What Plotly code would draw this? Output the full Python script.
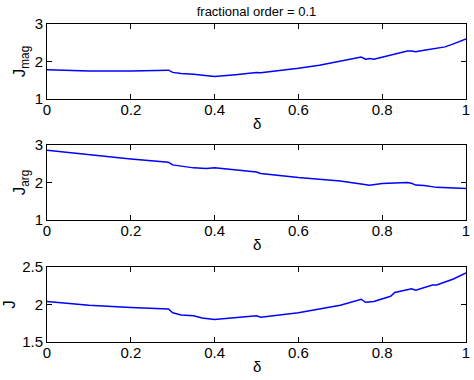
import plotly.graph_objects as go
from plotly.subplots import make_subplots

# delta values (x) per series
x_mag = [0, 0.1, 0.2, 0.29, 0.3, 0.32, 0.35, 0.37, 0.4, 0.45, 0.5, 0.51, 0.55, 0.6, 0.65, 0.7, 0.75, 0.76, 0.77, 0.78, 0.8, 0.83, 0.86, 0.87, 0.88, 0.9, 0.95, 0.97, 1.0]
j_mag = [1.78, 1.75, 1.75, 1.77, 1.71, 1.68, 1.66, 1.63, 1.60, 1.65, 1.71, 1.70, 1.75, 1.82, 1.90, 2.00, 2.12, 2.06, 2.08, 2.06, 2.12, 2.20, 2.28, 2.28, 2.26, 2.30, 2.39, 2.47, 2.60]

x_arg = [0, 0.1, 0.2, 0.29, 0.3, 0.35, 0.38, 0.4, 0.45, 0.5, 0.51, 0.6, 0.7, 0.76, 0.77, 0.8, 0.82, 0.84, 0.86, 0.87, 0.88, 0.9, 0.92, 0.93, 1.0]
j_arg = [2.86, 2.74, 2.63, 2.54, 2.47, 2.39, 2.37, 2.39, 2.33, 2.28, 2.24, 2.13, 2.04, 1.95, 1.93, 1.97, 1.98, 2.01, 2.00, 1.98, 1.93, 1.92, 1.89, 1.87, 1.84]

x_j = [0, 0.1, 0.2, 0.29, 0.3, 0.32, 0.35, 0.37, 0.4, 0.45, 0.5, 0.51, 0.55, 0.6, 0.65, 0.7, 0.75, 0.76, 0.78, 0.8, 0.82, 0.83, 0.86, 0.87, 0.88, 0.9, 0.92, 0.93, 0.97, 1.0]
j_tot = [2.04, 1.99, 1.96, 1.94, 1.89, 1.86, 1.85, 1.82, 1.80, 1.83, 1.85, 1.83, 1.86, 1.89, 1.94, 1.99, 2.07, 2.03, 2.04, 2.07, 2.11, 2.16, 2.20, 2.21, 2.19, 2.22, 2.26, 2.26, 2.34, 2.42]

x_ticks = [0, 0.2, 0.4, 0.6, 0.8, 1]
x_ticktext = ["0", "0.2", "0.4", "0.6", "0.8", "1"]
y_ticks_1 = [1, 2, 3]
y_ticks_2 = [1, 2, 3]
y_ticks_3 = [1.5, 2, 2.5]
y_ticktext_3 = ["1.5", "2", "2.5"]

title_text = "fractional order = 0.1"
x_label = "δ"
y_labels = ["J<sub>mag</sub>", "J<sub>arg</sub>", "J"]

fig = make_subplots(rows=3, cols=1)
series = [(x_mag, j_mag), (x_arg, j_arg), (x_j, j_tot)]
for i, (xs, ys) in enumerate(series, start=1):
    fig.add_trace(go.Scatter(x=xs, y=ys, mode="lines",
                             line=dict(color="#0000FF", width=1.5),
                             showlegend=False), row=i, col=1)

W, H = 474, 380
ML, MR, MT, MB = 47, 8, 24, 38
PH = H - MT - MB
domains = [(1 - 75 / PH, 1.0), (1 - 196 / PH, 1 - 121 / PH), (0.0, 75 / PH)]
yranges = [[1, 3], [1, 3], [1.5, 2.5]]
yticks = [(y_ticks_1, [str(v) for v in y_ticks_1]),
          (y_ticks_2, [str(v) for v in y_ticks_2]),
          (y_ticks_3, y_ticktext_3)]

axis_common = dict(showline=True, linecolor="black", linewidth=1, mirror="ticks",
                   ticks="inside", ticklen=5, tickcolor="black", showgrid=False,
                   zeroline=False, automargin=False, ticklabeloverflow="allow",
                   tickfont=dict(size=15, color="black"))

for i in range(3):
    xa = "xaxis" if i == 0 else f"xaxis{i+1}"
    ya = "yaxis" if i == 0 else f"yaxis{i+1}"
    xref = "x domain" if i == 0 else f"x{i+1} domain"
    yref = "y domain" if i == 0 else f"y{i+1} domain"
    fig.layout[xa].update(domain=[0, 1], range=[0, 1], tickvals=x_ticks, ticktext=x_ticktext,
                          ticklabelstandoff=-3, **axis_common)
    fig.layout[ya].update(domain=list(domains[i]), range=yranges[i],
                          tickvals=yticks[i][0], ticktext=yticks[i][1],
                          title=dict(text=y_labels[i], font=dict(size=17, color="black"), standoff=4),
                          **axis_common)
    fig.add_annotation(text=x_label, xref=xref, yref=yref, x=0.5, y=0, yshift=-24,
                       xanchor="center", yanchor="middle", showarrow=False,
                       font=dict(size=15, color="black"))

fig.update_layout(
    width=W, height=H,
    margin=dict(l=ML, r=MR, t=MT, b=MB, autoexpand=False),
    paper_bgcolor="white", plot_bgcolor="white",
    font=dict(family="Liberation Sans, Arial, sans-serif", color="black"),
    title=dict(text=title_text, x=(ML + (W - MR)) / 2 / W, xanchor="center", y=1 - 11 / H,
               yanchor="middle", font=dict(size=13, color="black")),
)

fig.write_html("out.html", config={"displayModeBar": False},
               post_script="document.body.style.margin='0';document.body.style.overflow='hidden';")
